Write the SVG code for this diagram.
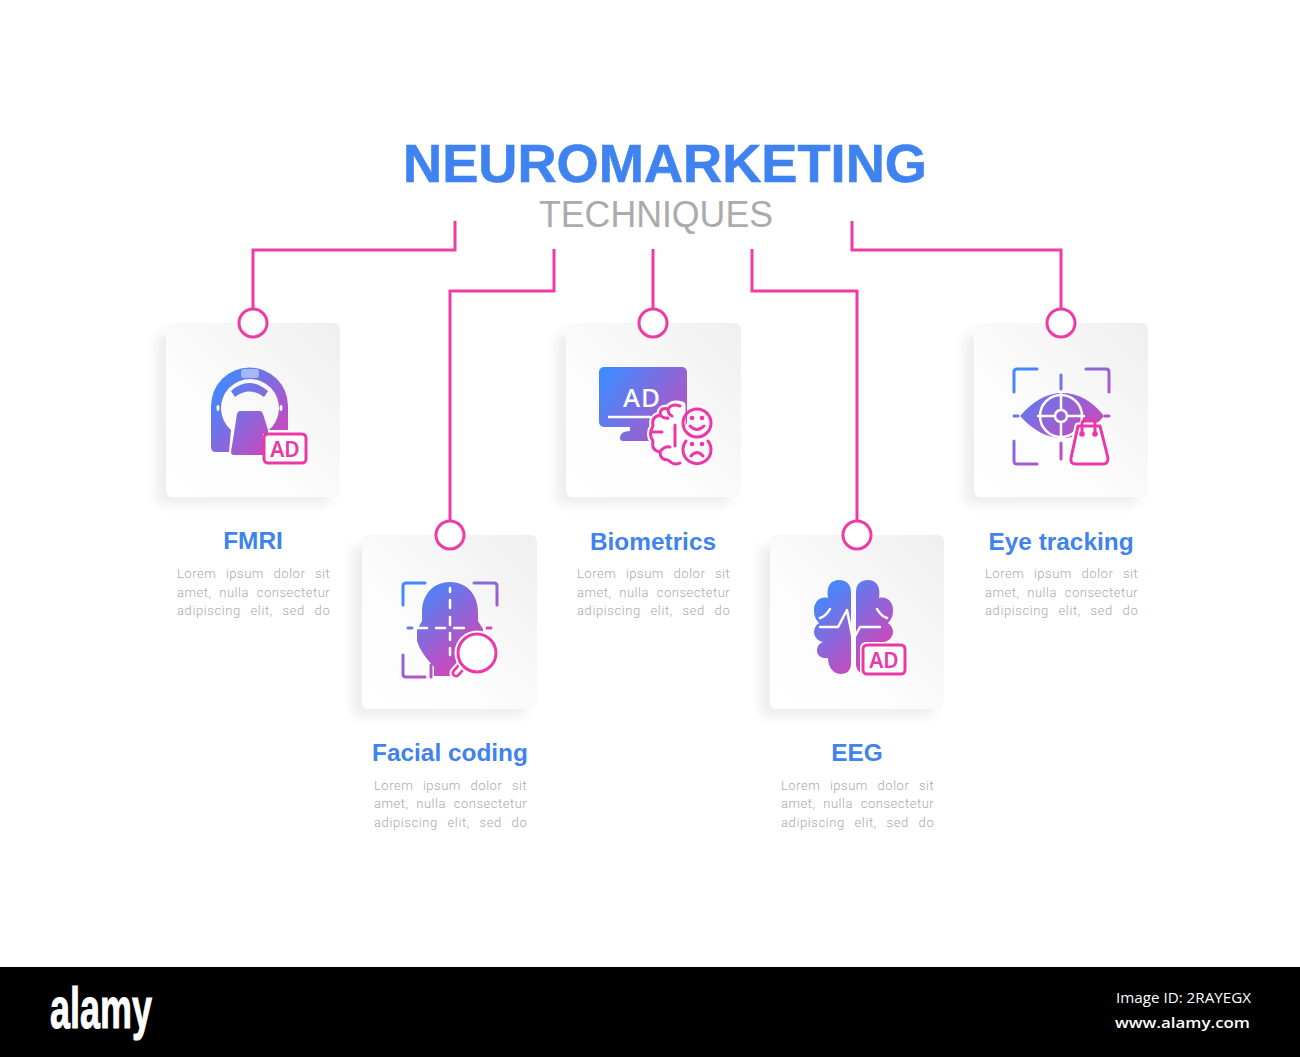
<svg xmlns="http://www.w3.org/2000/svg" width="1300" height="1057" viewBox="0 0 1300 1057">
<style>
.card{fill:url(#cardGrad)}
.shadow{fill:#000;opacity:.065;filter:url(#blur)}
.dot{fill:#fff;stroke:#EE3BA6;stroke-width:3}
.conn{fill:none;stroke:#EE3BA6;stroke-width:3}
.lab{font-family:"Liberation Sans",Arial,sans-serif;font-weight:700;font-size:24.4px;fill:#3F83EE;text-anchor:middle}
.body{font-family:"Roboto","Liberation Sans",sans-serif;font-weight:300;font-size:13px;fill:#a9a9ad;letter-spacing:.3px}
.adbox{fill:#fff;stroke:#EA38AA;stroke-width:3}
.adt{font-family:"Noto Sans","Liberation Sans",sans-serif;font-weight:600;fill:#EA38AA;text-anchor:middle}
.pk{fill:none;stroke:#EA38AA;stroke-width:3;stroke-linecap:round;stroke-linejoin:round}
.wh{fill:none;stroke:#fff;stroke-width:2.5;stroke-linecap:round;stroke-linejoin:round}
.foot{font-family:"Open Sans","Liberation Sans",sans-serif;fill:#fff}
</style>
<defs>
<filter id="blur" x="-20%" y="-20%" width="140%" height="140%"><feGaussianBlur stdDeviation="6"/></filter>
<linearGradient id="cardGrad" x1="1" y1="0" x2="0" y2="1"><stop offset="0" stop-color="#EFEFF0"/><stop offset=".6" stop-color="#FCFCFC"/><stop offset="1" stop-color="#fff"/></linearGradient>
<linearGradient id="g1" gradientUnits="userSpaceOnUse" x1="215" y1="385" x2="295" y2="450"><stop offset="0" stop-color="#3E8BFF"/><stop offset="1" stop-color="#E83AAE"/></linearGradient>
<linearGradient id="g2" gradientUnits="userSpaceOnUse" x1="410" y1="590" x2="480" y2="675"><stop offset="0" stop-color="#3E8BFF"/><stop offset="1" stop-color="#EE38AA"/></linearGradient>
<linearGradient id="g3" gradientUnits="userSpaceOnUse" x1="600" y1="380" x2="690" y2="440"><stop offset="0" stop-color="#3E8BFF"/><stop offset="1" stop-color="#C94ABB"/></linearGradient>
<linearGradient id="g4" gradientUnits="userSpaceOnUse" x1="820" y1="590" x2="890" y2="670"><stop offset="0" stop-color="#3E8BFF"/><stop offset="1" stop-color="#EE38AA"/></linearGradient>
<linearGradient id="g5" gradientUnits="userSpaceOnUse" x1="1015" y1="372" x2="1105" y2="462"><stop offset="0" stop-color="#3E8BFF"/><stop offset="1" stop-color="#EE38AA"/></linearGradient>
</defs>
<rect width="1300" height="1057" fill="#fff"/>
<g id="title">
<text x="665" y="182" text-anchor="middle" font-family="Liberation Sans, Arial, sans-serif" font-weight="700" font-size="53" fill="#3F83F0" stroke="#3F83F0" stroke-width=".6" textLength="524" lengthAdjust="spacingAndGlyphs">NEUROMARKETING</text>
<text x="656" y="227" text-anchor="middle" font-family="Liberation Sans, Arial, sans-serif" font-size="37" fill="#ABABAB" textLength="234" lengthAdjust="spacingAndGlyphs">TECHNIQUES</text>
</g>
<g id="node-fmri">
<rect class="shadow" x="156" y="333" width="174" height="172" rx="6"/>
<rect class="card" x="166" y="323" width="174" height="174" rx="6"/>
<g fill="url(#g1)">
<path d="M211 406A38.5 38.5 0 0 1 288 406V430H269A29 29 0 1 0 231 430L229 452H216Q211 452 211 447Z"/>
<path d="M231 391Q249 375 268 391L264 397Q249 386 235 397Z"/>
<path d="M240 411H260Q262 411 263 414L268 430V434H263V455H234Q231 455 231 452L237 414Q238 411 240 411Z"/>
</g>
<rect x="241" y="369" width="18" height="9" rx="3" fill="#fff" opacity=".45"/>
<ellipse cx="218" cy="408" rx="1.5" ry="3" fill="#fff"/><ellipse cx="281" cy="408" rx="1.5" ry="3" fill="#fff"/>
<rect class="adbox" x="264" y="434" width="42" height="29" rx="4"/>
<text class="adt" x="285" y="457" font-size="21">AD</text>
<text class="lab" x="253" y="549">FMRI</text>
<text class="body" x="177" y="578" word-spacing="6" textLength="153">Lorem ipsum dolor sit</text>
<text class="body" x="177" y="597" word-spacing="4" textLength="153">amet, nulla consectetur</text>
<text class="body" x="177" y="615" word-spacing="6" textLength="153">adipiscing elit, sed do</text>
</g>
<g id="node-facial">
<rect class="shadow" x="352" y="545" width="174" height="172" rx="6"/>
<rect class="card" x="362" y="535" width="175" height="174" rx="6"/>
<path fill="url(#g2)" d="M450 582C468 582 478 596 478 612V621L483 629V640L455 676H434V667Q420 652 417 641V630L422 621V612C422 596 432 582 450 582Z"/>
<g fill="none" stroke="url(#g2)" stroke-width="3" stroke-linecap="round" stroke-linejoin="round">
<path d="M403 605V586Q403 583 406 583H425"/>
<path d="M474 583H494Q497 583 497 586V605"/>
<path d="M403 655V674Q403 677 406 677H425"/>
<path d="M431 665V677"/>
<path d="M408 628H412M487 628H491"/>
</g>
<path class="wh" d="M418 628H427M436 628H445M454 628H464M450 588V592M450 600V608M450 617V625M450 633V640M450 648V655"/>
<path d="M464 664L456 673" stroke="#fff" stroke-width="13" stroke-linecap="round"/>
<path d="M464 664L456 673" stroke="#EA38AA" stroke-width="9" stroke-linecap="round"/>
<path d="M464 664L456 673" stroke="#fff" stroke-width="3.5" stroke-linecap="round"/>
<circle cx="477" cy="653" r="22.5" fill="#fff"/>
<circle cx="477" cy="653" r="19" fill="#fff" stroke="#EA38AA" stroke-width="3"/>
<text class="lab" x="450" y="761">Facial coding</text>
<text class="body" x="374" y="790" word-spacing="6" textLength="153">Lorem ipsum dolor sit</text>
<text class="body" x="374" y="808" word-spacing="4" textLength="153">amet, nulla consectetur</text>
<text class="body" x="374" y="827" word-spacing="6" textLength="153">adipiscing elit, sed do</text>
</g>
<g id="node-biometrics">
<rect class="shadow" x="556" y="333" width="174" height="172" rx="6"/>
<rect class="card" x="566" y="323" width="175" height="174" rx="6"/>
<g fill="url(#g3)">
<rect x="599" y="367" width="88" height="60" rx="5"/>
<path d="M630 426H650V431H655V441H623Q620 441 620 438Q620 431 630 431Z"/>
</g>
<text x="642" y="407" text-anchor="middle" font-family="Noto Sans, Liberation Sans, sans-serif" font-size="26" font-weight="500" letter-spacing="1" fill="#fff">AD</text>
<path class="wh" d="M609 417H650"/>
<path d="M682 405Q673 402 668 408Q660 407 660 415Q651 417 653 426Q648 434 653 441Q651 450 660 452Q660 460 668 460Q674 466 682 463Z" fill="#fff" stroke="#fff" stroke-width="7" stroke-linejoin="round"/>
<path d="M680 406Q672 403 668 409Q660 407 660 415Q651 417 653 426Q648 434 653 441Q651 450 660 452Q660 460 668 460Q674 466 680 463" fill="#fff" stroke="#EA38AA" stroke-width="3" stroke-linecap="round" stroke-linejoin="round"/>
<path class="pk" d="M675 425V446M660 415Q664 419 668 418M653 432H662M660 452Q664 446 670 447M668 409Q668 414 672 416"/>
<circle class="pk" cx="697" cy="423" r="14"/>
<path class="pk" d="M690 426Q697 433 704 426"/>
<path class="pk" d="M686 441A14 14 0 1 0 708 441"/>
<path class="pk" d="M691 456Q697 449 703 456"/>
<g fill="#EA38AA"><circle cx="692" cy="418" r="2.3"/><circle cx="702" cy="418" r="2.3"/><circle cx="692" cy="444" r="2.3"/><circle cx="702" cy="444" r="2.3"/></g>
<text class="lab" x="653" y="550">Biometrics</text>
<text class="body" x="577" y="578" word-spacing="6" textLength="153">Lorem ipsum dolor sit</text>
<text class="body" x="577" y="597" word-spacing="4" textLength="153">amet, nulla consectetur</text>
<text class="body" x="577" y="615" word-spacing="6" textLength="153">adipiscing elit, sed do</text>
</g>
<g id="node-eeg">
<rect class="shadow" x="760" y="545" width="174" height="172" rx="6"/>
<rect class="card" x="770" y="535" width="174" height="174" rx="6"/>
<g fill="url(#g4)">
<path d="M851 592C851 584 846 580 839 580C831 580 826 586 828 598C820 596 814 602 814 610C814 616 816 620 819 623C815 626 814 629 814 632C814 637 818 641 823 642C818 644 817 648 817 651C817 655 821 659 828 658C828 668 834 674 841 674C847 674 851 670 851 664Z"/>
<path d="M856 592C856 584 861 580 868 580C876 580 881 586 879 598C887 596 893 602 893 610C893 616 891 620 888 623C892 626 893 629 893 632C893 637 889 641 884 642C889 644 890 648 890 651C890 655 886 659 879 658C879 668 873 674 866 674C860 674 856 670 856 664Z"/>
</g>
<path class="wh" stroke-width="2" d="M820 627H838L847 610L853 640L860 627H880M820 618Q826 616 830 609M887 618Q881 616 877 609"/>
<rect x="860" y="642" width="49" height="35" rx="6" fill="#fff"/>
<rect class="adbox" x="863" y="645" width="42" height="29" rx="4"/>
<text class="adt" x="884" y="668" font-size="21">AD</text>
<text class="lab" x="857" y="761">EEG</text>
<text class="body" x="781" y="790" word-spacing="6" textLength="153">Lorem ipsum dolor sit</text>
<text class="body" x="781" y="808" word-spacing="4" textLength="153">amet, nulla consectetur</text>
<text class="body" x="781" y="827" word-spacing="6" textLength="153">adipiscing elit, sed do</text>
</g>
<g id="node-eye">
<rect class="shadow" x="964" y="333" width="174" height="172" rx="6"/>
<rect class="card" x="974" y="323" width="174" height="174" rx="6"/>
<g fill="none" stroke="url(#g5)" stroke-width="3" stroke-linecap="round" stroke-linejoin="round">
<path d="M1014 392V372Q1014 369 1017 369H1037"/>
<path d="M1086 369H1106Q1109 369 1109 372V392"/>
<path d="M1014 441V461Q1014 464 1017 464H1037"/>
<path d="M1061 375V389M1061 443V459M1014 416H1018M1105 416H1109"/>
</g>
<path fill="url(#g5)" d="M1020 416Q1040 393 1062 393Q1086 393 1104 416Q1086 438 1062 438Q1040 438 1020 416Z"/>
<g class="wh" stroke-width="2.4">
<circle cx="1061" cy="416" r="21"/>
<circle cx="1061" cy="416" r="6"/>
<path d="M1061 393V409M1061 423V439M1038 416H1054M1068 416H1084"/>
</g>
<path d="M1078 426H1100L1108 458Q1108 464 1103 464H1076Q1070 464 1071 458Z" fill="#fff" stroke="#fff" stroke-width="7" stroke-linejoin="round"/>
<path class="pk" d="M1078 426H1100L1108 458Q1108 464 1103 464H1076Q1070 464 1071 458Z"/>
<path class="pk" d="M1082 433V424Q1082 420 1086 420H1091Q1095 420 1095 424V433"/>
<g fill="#EA38AA"><circle cx="1082" cy="434" r="2.8"/><circle cx="1095" cy="434" r="2.8"/></g>
<text class="lab" x="1061" y="550">Eye tracking</text>
<text class="body" x="985" y="578" word-spacing="6" textLength="153">Lorem ipsum dolor sit</text>
<text class="body" x="985" y="597" word-spacing="4" textLength="153">amet, nulla consectetur</text>
<text class="body" x="985" y="615" word-spacing="6" textLength="153">adipiscing elit, sed do</text>
</g>
<g id="connectors">
<path class="conn" d="M455 221V250H253V309"/>
<path class="conn" d="M554 249V291H450V521"/>
<path class="conn" d="M653 249V309"/>
<path class="conn" d="M752 249V291H857V521"/>
<path class="conn" d="M852 221V250H1061V309"/>
<circle class="dot" cx="253" cy="323" r="14"/>
<circle class="dot" cx="450" cy="535" r="14"/>
<circle class="dot" cx="653" cy="323" r="14"/>
<circle class="dot" cx="857" cy="535" r="14"/>
<circle class="dot" cx="1061" cy="323" r="14"/>
</g>
<g id="footer">
<rect x="0" y="967" width="1300" height="90" fill="#000"/>
<text class="foot" x="50" y="1028" style="font-family:'Liberation Sans',sans-serif" font-weight="700" font-size="58" stroke="#fff" stroke-width="1" textLength="102" lengthAdjust="spacingAndGlyphs">alamy</text>
<text class="foot" x="1251" y="1003" text-anchor="end" font-size="14" textLength="135" lengthAdjust="spacingAndGlyphs">Image ID: 2RAYEGX</text>
<text class="foot" x="1250" y="1028" text-anchor="end" font-size="15" font-weight="600" textLength="135" lengthAdjust="spacingAndGlyphs">www.alamy.com</text>
</g>
</svg>
